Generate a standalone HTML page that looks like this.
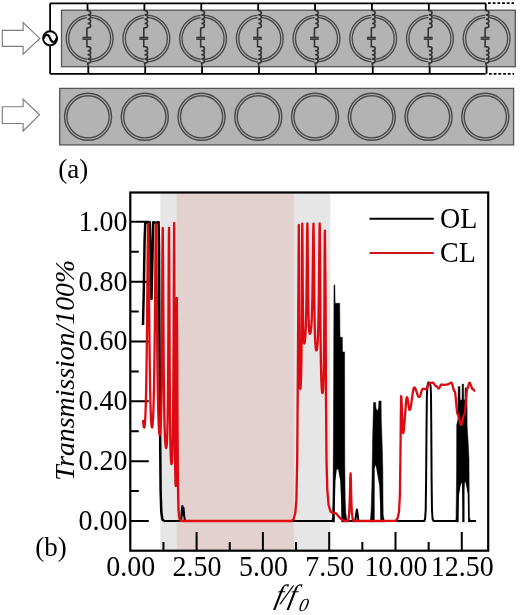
<!DOCTYPE html>
<html><head><meta charset="utf-8"><title>Figure</title>
<style>html,body{margin:0;padding:0;background:#fff;}svg{display:block;}text{font-family:"Liberation Serif",serif;}</style>
</head><body>
<svg width="520" height="615" viewBox="0 0 520 615">
<polygon points="2.3,30.3 23.1,30.3 23.1,22.5 39.8,38.4 23.1,54.2 23.1,46.4 2.3,46.4" fill="#fff" stroke="#7c7c7c" stroke-width="1.15" stroke-linejoin="miter"/>
<polygon points="2.3,106.7 23.1,106.7 23.1,99 39.5,114.8 23.1,131 23.1,123.5 2.3,123.5" fill="#fff" stroke="#7c7c7c" stroke-width="1.15" stroke-linejoin="miter"/>
<rect x="61.5" y="10.2" width="453.8" height="56.5" fill="#b3b3b3" stroke="#555555" stroke-width="1.3"/>
<rect x="59.7" y="88.4" width="453.9" height="56.5" fill="#b3b3b3" stroke="#555555" stroke-width="1.3"/>
<path d="M50.1,3.3 H485.73 M50.1,73.8 H485.73 M50.1,3.3 V73.8" fill="none" stroke="#000" stroke-width="1.8"/>
<path d="M488,3.2 H514 M489,73.8 H514" fill="none" stroke="#000" stroke-width="1.8" stroke-dasharray="2.8 1.9"/>
<circle cx="89.65" cy="38.5" r="23.4" fill="none" stroke="#4a4a4a" stroke-width="1.35"/>
<circle cx="89.65" cy="38.5" r="21.0" fill="none" stroke="#4a4a4a" stroke-width="1.35"/>
<rect x="86.9" y="12.5" width="4.2" height="7" fill="#b3b3b3"/>
<rect x="86.9" y="57.5" width="4.2" height="7" fill="#b3b3b3"/>
<path d="M87.5,3.3 V10.6 M88.3,66.6 V73.8" stroke="#000" stroke-width="1.8" fill="none"/>
<path d="M87.6,10.6 a3.1,2.15 0 0 1 0,4.3 a3.1,2.15 0 0 1 0,4.3 a3.1,2.15 0 0 1 0,4.3 a3.1,2.15 0 0 1 0,4.3 L86.9,28.4 V36.9 M86.9,39.7 V46.6 L87.6,46.6 a3.1,2.05 0 0 1 0,4.1 a3.1,2.05 0 0 1 0,4.1 a3.1,2.05 0 0 1 0,4.1 a3.1,2.05 0 0 1 0,4.1 L88.4,66.6" stroke="#333333" stroke-width="1.6" fill="none"/>
<rect x="82.5" y="36.7" width="8.8" height="3.2" fill="#333333"/>
<line x1="82.5" y1="38.3" x2="91.3" y2="38.3" stroke="#7a7a7a" stroke-width="0.6"/>
<circle cx="146.36" cy="38.5" r="23.4" fill="none" stroke="#4a4a4a" stroke-width="1.35"/>
<circle cx="146.36" cy="38.5" r="21.0" fill="none" stroke="#4a4a4a" stroke-width="1.35"/>
<rect x="143.79" y="12.5" width="4.2" height="7" fill="#b3b3b3"/>
<rect x="143.79" y="57.5" width="4.2" height="7" fill="#b3b3b3"/>
<path d="M144.39,3.3 V10.6 M145.19,66.6 V73.8" stroke="#000" stroke-width="1.8" fill="none"/>
<path d="M144.49,10.6 a3.1,2.15 0 0 1 0,4.3 a3.1,2.15 0 0 1 0,4.3 a3.1,2.15 0 0 1 0,4.3 a3.1,2.15 0 0 1 0,4.3 L143.79,28.4 V36.9 M143.79,39.7 V46.6 L144.49,46.6 a3.1,2.05 0 0 1 0,4.1 a3.1,2.05 0 0 1 0,4.1 a3.1,2.05 0 0 1 0,4.1 a3.1,2.05 0 0 1 0,4.1 L145.29,66.6" stroke="#333333" stroke-width="1.6" fill="none"/>
<rect x="139.39" y="36.7" width="8.8" height="3.2" fill="#333333"/>
<line x1="139.39" y1="38.3" x2="148.19" y2="38.3" stroke="#7a7a7a" stroke-width="0.6"/>
<circle cx="203.07" cy="38.5" r="23.4" fill="none" stroke="#4a4a4a" stroke-width="1.35"/>
<circle cx="203.07" cy="38.5" r="21.0" fill="none" stroke="#4a4a4a" stroke-width="1.35"/>
<rect x="200.68" y="12.5" width="4.2" height="7" fill="#b3b3b3"/>
<rect x="200.68" y="57.5" width="4.2" height="7" fill="#b3b3b3"/>
<path d="M201.28,3.3 V10.6 M202.08,66.6 V73.8" stroke="#000" stroke-width="1.8" fill="none"/>
<path d="M201.38,10.6 a3.1,2.15 0 0 1 0,4.3 a3.1,2.15 0 0 1 0,4.3 a3.1,2.15 0 0 1 0,4.3 a3.1,2.15 0 0 1 0,4.3 L200.68,28.4 V36.9 M200.68,39.7 V46.6 L201.38,46.6 a3.1,2.05 0 0 1 0,4.1 a3.1,2.05 0 0 1 0,4.1 a3.1,2.05 0 0 1 0,4.1 a3.1,2.05 0 0 1 0,4.1 L202.18,66.6" stroke="#333333" stroke-width="1.6" fill="none"/>
<rect x="196.28" y="36.7" width="8.8" height="3.2" fill="#333333"/>
<line x1="196.28" y1="38.3" x2="205.08" y2="38.3" stroke="#7a7a7a" stroke-width="0.6"/>
<circle cx="259.78" cy="38.5" r="23.4" fill="none" stroke="#4a4a4a" stroke-width="1.35"/>
<circle cx="259.78" cy="38.5" r="21.0" fill="none" stroke="#4a4a4a" stroke-width="1.35"/>
<rect x="257.57" y="12.5" width="4.2" height="7" fill="#b3b3b3"/>
<rect x="257.57" y="57.5" width="4.2" height="7" fill="#b3b3b3"/>
<path d="M258.17,3.3 V10.6 M258.97,66.6 V73.8" stroke="#000" stroke-width="1.8" fill="none"/>
<path d="M258.27,10.6 a3.1,2.15 0 0 1 0,4.3 a3.1,2.15 0 0 1 0,4.3 a3.1,2.15 0 0 1 0,4.3 a3.1,2.15 0 0 1 0,4.3 L257.57,28.4 V36.9 M257.57,39.7 V46.6 L258.27,46.6 a3.1,2.05 0 0 1 0,4.1 a3.1,2.05 0 0 1 0,4.1 a3.1,2.05 0 0 1 0,4.1 a3.1,2.05 0 0 1 0,4.1 L259.07,66.6" stroke="#333333" stroke-width="1.6" fill="none"/>
<rect x="253.17" y="36.7" width="8.8" height="3.2" fill="#333333"/>
<line x1="253.17" y1="38.3" x2="261.97" y2="38.3" stroke="#7a7a7a" stroke-width="0.6"/>
<circle cx="316.49" cy="38.5" r="23.4" fill="none" stroke="#4a4a4a" stroke-width="1.35"/>
<circle cx="316.49" cy="38.5" r="21.0" fill="none" stroke="#4a4a4a" stroke-width="1.35"/>
<rect x="314.46" y="12.5" width="4.2" height="7" fill="#b3b3b3"/>
<rect x="314.46" y="57.5" width="4.2" height="7" fill="#b3b3b3"/>
<path d="M315.06,3.3 V10.6 M315.86,66.6 V73.8" stroke="#000" stroke-width="1.8" fill="none"/>
<path d="M315.16,10.6 a3.1,2.15 0 0 1 0,4.3 a3.1,2.15 0 0 1 0,4.3 a3.1,2.15 0 0 1 0,4.3 a3.1,2.15 0 0 1 0,4.3 L314.46,28.4 V36.9 M314.46,39.7 V46.6 L315.16,46.6 a3.1,2.05 0 0 1 0,4.1 a3.1,2.05 0 0 1 0,4.1 a3.1,2.05 0 0 1 0,4.1 a3.1,2.05 0 0 1 0,4.1 L315.96,66.6" stroke="#333333" stroke-width="1.6" fill="none"/>
<rect x="310.06" y="36.7" width="8.8" height="3.2" fill="#333333"/>
<line x1="310.06" y1="38.3" x2="318.86" y2="38.3" stroke="#7a7a7a" stroke-width="0.6"/>
<circle cx="373.2" cy="38.5" r="23.4" fill="none" stroke="#4a4a4a" stroke-width="1.35"/>
<circle cx="373.2" cy="38.5" r="21.0" fill="none" stroke="#4a4a4a" stroke-width="1.35"/>
<rect x="371.35" y="12.5" width="4.2" height="7" fill="#b3b3b3"/>
<rect x="371.35" y="57.5" width="4.2" height="7" fill="#b3b3b3"/>
<path d="M371.95,3.3 V10.6 M372.75,66.6 V73.8" stroke="#000" stroke-width="1.8" fill="none"/>
<path d="M372.05,10.6 a3.1,2.15 0 0 1 0,4.3 a3.1,2.15 0 0 1 0,4.3 a3.1,2.15 0 0 1 0,4.3 a3.1,2.15 0 0 1 0,4.3 L371.35,28.4 V36.9 M371.35,39.7 V46.6 L372.05,46.6 a3.1,2.05 0 0 1 0,4.1 a3.1,2.05 0 0 1 0,4.1 a3.1,2.05 0 0 1 0,4.1 a3.1,2.05 0 0 1 0,4.1 L372.85,66.6" stroke="#333333" stroke-width="1.6" fill="none"/>
<rect x="366.95" y="36.7" width="8.8" height="3.2" fill="#333333"/>
<line x1="366.95" y1="38.3" x2="375.75" y2="38.3" stroke="#7a7a7a" stroke-width="0.6"/>
<circle cx="429.91" cy="38.5" r="23.4" fill="none" stroke="#4a4a4a" stroke-width="1.35"/>
<circle cx="429.91" cy="38.5" r="21.0" fill="none" stroke="#4a4a4a" stroke-width="1.35"/>
<rect x="428.24" y="12.5" width="4.2" height="7" fill="#b3b3b3"/>
<rect x="428.24" y="57.5" width="4.2" height="7" fill="#b3b3b3"/>
<path d="M428.84,3.3 V10.6 M429.64,66.6 V73.8" stroke="#000" stroke-width="1.8" fill="none"/>
<path d="M428.94,10.6 a3.1,2.15 0 0 1 0,4.3 a3.1,2.15 0 0 1 0,4.3 a3.1,2.15 0 0 1 0,4.3 a3.1,2.15 0 0 1 0,4.3 L428.24,28.4 V36.9 M428.24,39.7 V46.6 L428.94,46.6 a3.1,2.05 0 0 1 0,4.1 a3.1,2.05 0 0 1 0,4.1 a3.1,2.05 0 0 1 0,4.1 a3.1,2.05 0 0 1 0,4.1 L429.74,66.6" stroke="#333333" stroke-width="1.6" fill="none"/>
<rect x="423.84" y="36.7" width="8.8" height="3.2" fill="#333333"/>
<line x1="423.84" y1="38.3" x2="432.64" y2="38.3" stroke="#7a7a7a" stroke-width="0.6"/>
<circle cx="486.62" cy="38.5" r="23.4" fill="none" stroke="#4a4a4a" stroke-width="1.35"/>
<circle cx="486.62" cy="38.5" r="21.0" fill="none" stroke="#4a4a4a" stroke-width="1.35"/>
<rect x="485.13" y="12.5" width="4.2" height="7" fill="#b3b3b3"/>
<rect x="485.13" y="57.5" width="4.2" height="7" fill="#b3b3b3"/>
<path d="M485.73,3.3 V10.6 M486.53,66.6 V73.8" stroke="#000" stroke-width="1.8" fill="none"/>
<path d="M485.83,10.6 a3.1,2.15 0 0 1 0,4.3 a3.1,2.15 0 0 1 0,4.3 a3.1,2.15 0 0 1 0,4.3 a3.1,2.15 0 0 1 0,4.3 L485.13,28.4 V36.9 M485.13,39.7 V46.6 L485.83,46.6 a3.1,2.05 0 0 1 0,4.1 a3.1,2.05 0 0 1 0,4.1 a3.1,2.05 0 0 1 0,4.1 a3.1,2.05 0 0 1 0,4.1 L486.63,66.6" stroke="#333333" stroke-width="1.6" fill="none"/>
<rect x="480.73" y="36.7" width="8.8" height="3.2" fill="#333333"/>
<line x1="480.73" y1="38.3" x2="489.53" y2="38.3" stroke="#7a7a7a" stroke-width="0.6"/>
<circle cx="50.1" cy="38.3" r="7.05" fill="#fff" stroke="#000" stroke-width="1.9"/>
<path d="M43.6,38.9 C44.6,33.6 48.6,33.6 50.1,38.4 C51.6,43.2 55.6,43.2 56.6,37.9" fill="none" stroke="#000" stroke-width="2.1"/>
<circle cx="88.05" cy="116.8" r="23.5" fill="none" stroke="#4a4a4a" stroke-width="1.4"/>
<circle cx="88.05" cy="116.8" r="21.1" fill="none" stroke="#4a4a4a" stroke-width="1.4"/>
<circle cx="144.8" cy="116.8" r="23.5" fill="none" stroke="#4a4a4a" stroke-width="1.4"/>
<circle cx="144.8" cy="116.8" r="21.1" fill="none" stroke="#4a4a4a" stroke-width="1.4"/>
<circle cx="201.55" cy="116.8" r="23.5" fill="none" stroke="#4a4a4a" stroke-width="1.4"/>
<circle cx="201.55" cy="116.8" r="21.1" fill="none" stroke="#4a4a4a" stroke-width="1.4"/>
<circle cx="258.3" cy="116.8" r="23.5" fill="none" stroke="#4a4a4a" stroke-width="1.4"/>
<circle cx="258.3" cy="116.8" r="21.1" fill="none" stroke="#4a4a4a" stroke-width="1.4"/>
<circle cx="315.05" cy="116.8" r="23.5" fill="none" stroke="#4a4a4a" stroke-width="1.4"/>
<circle cx="315.05" cy="116.8" r="21.1" fill="none" stroke="#4a4a4a" stroke-width="1.4"/>
<circle cx="371.8" cy="116.8" r="23.5" fill="none" stroke="#4a4a4a" stroke-width="1.4"/>
<circle cx="371.8" cy="116.8" r="21.1" fill="none" stroke="#4a4a4a" stroke-width="1.4"/>
<circle cx="428.55" cy="116.8" r="23.5" fill="none" stroke="#4a4a4a" stroke-width="1.4"/>
<circle cx="428.55" cy="116.8" r="21.1" fill="none" stroke="#4a4a4a" stroke-width="1.4"/>
<circle cx="485.3" cy="116.8" r="23.5" fill="none" stroke="#4a4a4a" stroke-width="1.4"/>
<circle cx="485.3" cy="116.8" r="21.1" fill="none" stroke="#4a4a4a" stroke-width="1.4"/>
<text x="58.3" y="178.3" font-size="27" fill="#000">(a)</text>
<rect x="160.3" y="192.5" width="170" height="358.2" fill="#e6e6e6"/>
<rect x="176.7" y="192.5" width="117.2" height="358.2" fill="#e3d1d0"/>
<path d="M130.3,521 h18.5 M130.3,491.08 h8.5 M130.3,461.16 h18.5 M130.3,431.24 h8.5 M130.3,401.32 h18.5 M130.3,371.4 h8.5 M130.3,341.48 h18.5 M130.3,311.56 h8.5 M130.3,281.64 h18.5 M130.3,251.72 h8.5 M130.3,221.8 h18.5 M163.45,550.7 v-8.8 M196.6,550.7 v-18.8 M229.75,550.7 v-8.8 M262.9,550.7 v-18.8 M296.05,550.7 v-8.8 M329.2,550.7 v-18.8 M362.35,550.7 v-8.8 M395.5,550.7 v-18.8 M428.65,550.7 v-8.8 M461.8,550.7 v-18.8" stroke="#000" stroke-width="2" fill="none"/>
<text transform="translate(127.4,530) scale(1,1.07)" text-anchor="end" font-size="28" fill="#000">0.00</text>
<text transform="translate(127.4,470.16) scale(1,1.07)" text-anchor="end" font-size="28" fill="#000">0.20</text>
<text transform="translate(127.4,410.32) scale(1,1.07)" text-anchor="end" font-size="28" fill="#000">0.40</text>
<text transform="translate(127.4,350.48) scale(1,1.07)" text-anchor="end" font-size="28" fill="#000">0.60</text>
<text transform="translate(127.4,290.64) scale(1,1.07)" text-anchor="end" font-size="28" fill="#000">0.80</text>
<text transform="translate(127.4,230.8) scale(1,1.07)" text-anchor="end" font-size="28" fill="#000">1.00</text>
<text transform="translate(130.8,575.8) scale(1,1.045)" text-anchor="middle" font-size="28" fill="#000">0.00</text>
<text transform="translate(197.1,575.8) scale(1,1.045)" text-anchor="middle" font-size="28" fill="#000">2.50</text>
<text transform="translate(263.4,575.8) scale(1,1.045)" text-anchor="middle" font-size="28" fill="#000">5.00</text>
<text transform="translate(329.7,575.8) scale(1,1.045)" text-anchor="middle" font-size="28" fill="#000">7.50</text>
<text transform="translate(396,575.8) scale(1,1.045)" text-anchor="middle" font-size="28" fill="#000">10.00</text>
<text transform="translate(462.3,575.8) scale(1,1.045)" text-anchor="middle" font-size="28" fill="#000">12.50</text>
<text transform="translate(73.9,480.8) rotate(-90)" font-style="italic" font-size="27.8" fill="#000">Transmission/100%</text>
<g transform="translate(0,604.2) skewX(-12)"><text x="0" y="0" font-style="italic" font-size="28" fill="#000"><tspan x="273.9">f</tspan><tspan x="280.4">/</tspan><tspan x="287.6">f</tspan><tspan x="299.4" font-size="18.5" dy="6.6">0</tspan></text></g>
<text x="35.2" y="555.5" font-size="27" fill="#000">(b)</text>
<line x1="369.5" y1="218.8" x2="433.8" y2="218.8" stroke="#000" stroke-width="2"/>
<line x1="369.5" y1="253" x2="433.8" y2="253" stroke="#d0141a" stroke-width="2"/>
<text transform="translate(440,228) scale(1,1.07)" font-size="28" fill="#000">OL</text>
<text transform="translate(440,262.2) scale(1,1.07)" font-size="28" fill="#000">CL</text>
<path d="M143,325 L143.8,290 L144.6,240 L145.3,222.3 L147,222.8 L149.8,222.3 L150.4,250 L151.5,299 L152.6,250 L153.2,222.3 L155,222.8 L158.6,222.3 L159,250 L159.4,330 L160.1,430 L160.6,490 L161.3,512 L162.4,519.5 L164,521" stroke="#000" stroke-width="2.5" fill="none" stroke-linejoin="round"/>
<path d="M164,521 L181.2,521 L181.8,510 L182.4,506 L183,515 L183.6,508 L184.3,517 L185,521 L355.2,521 L356.2,514 L356.9,509.5 L357.6,514 L358.4,521 L424.2,521 L425.1,519 L425.7,510 L426.1,480 L426.5,430 L426.9,395 L427.4,386 L428.4,382.6 L429.6,382.6 L430.6,386 L431,395 L431.3,430 L431.6,480 L432,510 L432.6,519 L433.6,521 L476,521" stroke="#000" stroke-width="2" fill="none" stroke-linejoin="round"/>
<polygon points="331.6,521.8 332.4,517 332.9,500 333.2,470 333.5,420 333.8,330 334,285 334.8,285 335.1,303.3 339.7,303.3 340,337.2 342.3,337.2 342.5,351.9 344.6,351.9 344.8,466 345.2,500 345.8,513 346.6,519 348,521.8" fill="#000" stroke="#000" stroke-width="0.5" stroke-linejoin="round"/>
<polygon points="369.6,521.8 370.6,518.5 371.2,509 371.9,485 372.6,440 373.4,410 373.6,402.4 375.6,402.4 375.9,408 377.3,411.5 378.6,408 378.9,401 381.1,401 381.3,420 382,440 382.4,452 382.8,470 383,500 383.2,515 384,519.5 385.4,521.8" fill="#000" stroke="#000" stroke-width="0.5" stroke-linejoin="round"/>
<polygon points="455.4,521.8 456,519 456.3,501 456.6,470 456.7,425 457.9,420 457.9,400 458.3,386.6 459.9,386.6 460.1,400 462,400 462.2,384.1 463.5,384.1 463.8,400 465,400 465.2,387.8 466.6,387.8 467.1,410 467.1,425 468.3,445 469,460 469.1,481 469.3,500 469.5,517 470.3,520.5 471.8,521.8" fill="#000" stroke="#000" stroke-width="0.5" stroke-linejoin="round"/>
<polygon points="334.8,522.5 334.9,505 335.4,481.5 336.6,470.5 337.5,469 338.3,470 340.2,480.5 341.1,500 341.4,522.5" fill="#fff"/>
<polygon points="374.6,522.5 374.6,470 375.2,465 376.2,467.8 379.3,485.6 380.1,505 380.3,522.5" fill="#fff"/>
<polygon points="458.6,522.5 459,495 460.6,485.5 461.6,483 462,483.5 462.2,500 462.3,522.5" fill="#fff"/>
<polygon points="464.5,522.5 464.5,490 464.9,481.5 465.8,483.4 467.7,494 468.1,519 468.1,522.5" fill="#fff"/>
<path d="M143,420 L143.11,420.57 L143.22,421.92 L143.33,423.41 L143.44,424.67 L143.55,425.63 L143.65,426.31 L143.76,426.8 L143.87,427.13 L143.98,427.34 L144.09,427.46 L144.2,427.5 L144.3,427.42 L144.4,427.19 L144.5,426.79 L144.6,426.23 L144.7,425.51 L144.8,424.61 L144.9,423.53 L145,422.27 L145.1,420.8 L145.2,419.13 L145.3,417.23 L145.4,415.1 L145.5,412.7 L145.6,410.03 L145.7,407.07 L145.8,403.78 L145.9,400.13 L146,396.11 L146.1,391.68 L146.2,386.8 L146.3,381.44 L146.4,375.56 L146.5,369.12 L146.6,362.1 L146.7,354.45 L146.8,346.17 L146.9,337.24 L147,327.67 L147.1,317.51 L147.2,306.82 L147.3,295.73 L147.4,284.42 L147.5,273.12 L147.6,262.13 L147.7,251.81 L147.8,242.56 L147.9,234.8 L148,228.92 L148.1,225.25 L148.2,224 L148.3,225.38 L148.4,229.44 L148.5,235.91 L148.6,244.39 L148.7,254.44 L148.8,265.54 L148.9,277.26 L149,289.2 L149.1,301.03 L149.2,312.5 L149.3,323.46 L149.4,333.78 L149.5,343.42 L149.6,352.33 L149.7,360.54 L149.8,368.05 L149.9,374.91 L150,381.14 L150.1,386.8 L150.2,391.92 L150.3,396.56 L150.4,400.73 L150.5,404.5 L150.6,407.88 L150.7,410.91 L150.8,413.62 L150.9,416.03 L151,418.16 L151.1,420.04 L151.2,421.68 L151.3,423.09 L151.4,424.29 L151.5,425.29 L151.6,426.09 L151.7,426.71 L151.8,427.15 L151.9,427.41 L152,427.5 L152.1,427.42 L152.2,427.19 L152.3,426.79 L152.4,426.23 L152.5,425.51 L152.6,424.61 L152.7,423.53 L152.8,422.27 L152.9,420.8 L153,419.13 L153.1,417.23 L153.2,415.1 L153.3,412.7 L153.4,410.03 L153.5,407.07 L153.6,403.78 L153.7,400.13 L153.8,396.11 L153.9,391.68 L154,386.8 L154.1,381.44 L154.2,375.56 L154.3,369.12 L154.4,362.1 L154.5,354.45 L154.6,346.17 L154.7,337.24 L154.8,327.67 L154.9,317.51 L155,306.82 L155.1,295.73 L155.2,284.42 L155.3,273.12 L155.4,262.13 L155.5,251.81 L155.6,242.56 L155.7,234.8 L155.8,228.92 L155.9,225.25 L156,224 L156.1,225.6 L156.21,230.27 L156.31,237.68 L156.41,247.34 L156.51,258.67 L156.62,271.08 L156.72,284.03 L156.82,297.08 L156.93,309.87 L157.03,322.15 L157.13,333.75 L157.23,344.57 L157.34,354.57 L157.44,363.74 L157.54,372.11 L157.64,379.71 L157.75,386.59 L157.85,392.8 L157.95,398.39 L158.06,403.42 L158.16,407.93 L158.26,411.96 L158.36,415.56 L158.47,418.77 L158.57,421.61 L158.67,424.12 L158.77,426.32 L158.88,428.24 L158.98,429.88 L159.08,431.28 L159.19,432.44 L159.29,433.37 L159.39,434.09 L159.49,434.6 L159.6,434.9 L159.7,435 L159.8,434.92 L159.9,434.67 L160,434.26 L160.1,433.67 L160.2,432.9 L160.3,431.92 L160.4,430.73 L160.5,429.3 L160.6,427.6 L160.7,425.59 L160.8,423.24 L160.9,420.48 L161,417.27 L161.1,413.51 L161.2,409.12 L161.3,403.99 L161.4,397.97 L161.5,390.91 L161.6,382.62 L161.7,372.9 L161.8,361.53 L161.9,348.3 L162,333.1 L162.1,315.97 L162.2,297.24 L162.3,277.74 L162.4,258.92 L162.5,242.86 L162.6,231.9 L162.7,228 L162.8,231.06 L162.9,239.81 L163,253.04 L163.1,269.21 L163.2,286.79 L163.3,304.51 L163.4,321.49 L163.5,337.22 L163.6,351.46 L163.7,364.14 L163.8,375.32 L163.9,385.12 L164,393.68 L164.1,401.14 L164.2,407.65 L164.3,413.32 L164.4,418.27 L164.5,422.59 L164.6,426.37 L164.7,429.68 L164.8,432.57 L164.9,435.11 L165,437.33 L165.1,439.26 L165.2,440.95 L165.3,442.4 L165.4,443.66 L165.5,444.73 L165.6,445.63 L165.7,446.37 L165.8,446.97 L165.9,447.42 L166,447.75 L166.1,447.94 L166.2,448 L166.3,447.9 L166.4,447.6 L166.5,447.1 L166.6,446.37 L166.7,445.42 L166.8,444.22 L166.9,442.74 L167,440.95 L167.1,438.8 L167.2,436.25 L167.3,433.24 L167.4,429.68 L167.5,425.47 L167.6,420.5 L167.7,414.62 L167.8,407.65 L167.9,399.37 L168,389.55 L168.1,377.9 L168.2,364.14 L168.3,348.05 L168.4,329.53 L168.5,308.85 L168.6,286.79 L168.7,264.98 L168.8,245.95 L168.9,232.75 L169,228 L169.1,234.36 L169.2,251.72 L169.3,275.91 L169.4,302.52 L169.5,328.29 L169.6,351.48 L169.7,371.45 L169.8,388.25 L169.9,402.21 L170,413.73 L170.1,423.24 L170.2,431.1 L170.3,437.6 L170.4,442.98 L170.5,447.45 L170.6,451.16 L170.7,454.23 L170.8,456.76 L170.9,458.83 L171,460.49 L171.1,461.8 L171.2,462.78 L171.3,463.46 L171.4,463.87 L171.5,464 L171.6,463.87 L171.71,463.49 L171.81,462.85 L171.92,461.93 L172.02,460.7 L172.12,459.15 L172.23,457.22 L172.33,454.88 L172.43,452.04 L172.54,448.64 L172.64,444.57 L172.75,439.7 L172.85,433.88 L172.95,426.89 L173.06,418.5 L173.16,408.41 L173.27,396.27 L173.37,381.7 L173.47,364.33 L173.58,343.91 L173.68,320.52 L173.78,294.91 L173.89,268.87 L173.99,245.55 L174.1,229.02 L174.2,223 L174.3,239.72 L174.4,280.04 L174.5,326.04 L174.6,366.51 L174.7,398.33 L174.8,422.25 L174.9,439.98 L175,453.12 L175.1,462.92 L175.2,470.23 L175.3,475.69 L175.4,479.71 L175.5,482.59 L175.6,484.52 L175.7,485.64 L175.8,486 L175.9,485.33 L176,483.21 L176.1,479.28 L176.2,472.82 L176.3,462.5 L176.4,445.96 L176.5,419.27 L176.6,377.89 L176.7,326.08 L176.8,298 L177.1,330 L177.5,420 L177.9,480 L178.5,510 L179.4,518.5 L180.8,520.8 L184,521 L291.5,521 L293.5,519.5 L295.3,513 L296.4,500 L297.2,460 L297.8,380 L298.8,225 L298.91,240.34 L299.02,273.93 L299.12,307.28 L299.23,332.99 L299.34,351.17 L299.45,363.75 L299.55,372.47 L299.66,378.55 L299.77,382.79 L299.88,385.7 L299.98,387.59 L300.09,388.66 L300.2,389 L300.3,388.87 L300.4,388.46 L300.5,387.78 L300.6,386.78 L300.7,385.44 L300.8,383.7 L300.9,381.48 L301,378.7 L301.1,375.22 L301.2,370.89 L301.3,365.46 L301.4,358.66 L301.5,350.12 L301.6,339.38 L301.7,325.95 L301.8,309.41 L301.9,289.72 L302,267.8 L302.1,246.29 L302.2,229.86 L302.3,223.6 L302.4,229.7 L302.5,245.03 L302.6,263.7 L302.7,281.29 L302.8,295.96 L302.9,307.53 L303,316.45 L303.1,323.28 L303.2,328.51 L303.3,332.54 L303.4,335.65 L303.5,338.05 L303.6,339.89 L303.7,341.27 L303.8,342.28 L303.9,342.97 L304,343.37 L304.1,343.5 L304.2,343.46 L304.31,343.33 L304.41,343.12 L304.51,342.82 L304.62,342.43 L304.72,341.94 L304.82,341.34 L304.93,340.62 L305.03,339.78 L305.13,338.79 L305.23,337.63 L305.34,336.29 L305.44,334.74 L305.54,332.95 L305.65,330.88 L305.75,328.48 L305.85,325.69 L305.96,322.47 L306.06,318.72 L306.16,314.36 L306.27,309.3 L306.37,303.43 L306.47,296.65 L306.57,288.89 L306.68,280.11 L306.78,270.39 L306.88,259.98 L306.99,249.37 L307.09,239.34 L307.19,230.94 L307.3,225.3 L307.4,223.3 L307.5,226.28 L307.6,234.4 L307.7,245.73 L307.8,258.19 L307.9,270.26 L308,281.11 L308.1,290.47 L308.2,298.33 L308.3,304.87 L308.4,310.26 L308.5,314.72 L308.6,318.39 L308.7,321.44 L308.8,323.96 L308.9,326.05 L309,327.79 L309.1,329.23 L309.2,330.41 L309.3,331.38 L309.4,332.16 L309.5,332.77 L309.6,333.23 L309.7,333.55 L309.8,333.74 L309.9,333.8 L310,333.77 L310.1,333.68 L310.2,333.53 L310.3,333.31 L310.4,333.03 L310.5,332.68 L310.6,332.26 L310.7,331.75 L310.8,331.16 L310.9,330.48 L311,329.69 L311.1,328.79 L311.2,327.76 L311.3,326.59 L311.4,325.25 L311.5,323.73 L311.6,322 L311.7,320.02 L311.8,317.78 L311.9,315.21 L312,312.28 L312.1,308.94 L312.2,305.11 L312.3,300.74 L312.4,295.76 L312.5,290.11 L312.6,283.73 L312.7,276.62 L312.8,268.82 L312.9,260.46 L313,251.81 L313.1,243.3 L313.2,235.52 L313.3,229.2 L313.4,225.05 L313.5,223.6 L313.6,226.34 L313.71,233.95 L313.81,244.92 L313.91,257.48 L314.02,270.2 L314.12,282.12 L314.23,292.79 L314.33,302.07 L314.43,309.99 L314.54,316.71 L314.64,322.37 L314.74,327.14 L314.85,331.16 L314.95,334.55 L315.05,337.42 L315.16,339.84 L315.26,341.89 L315.36,343.63 L315.47,345.1 L315.57,346.33 L315.67,347.37 L315.78,348.22 L315.88,348.91 L315.99,349.46 L316.09,349.88 L316.19,350.17 L316.3,350.34 L316.4,350.4 L316.5,350.36 L316.6,350.23 L316.7,350.03 L316.8,349.73 L316.9,349.34 L317,348.85 L317.1,348.26 L317.2,347.56 L317.3,346.72 L317.4,345.75 L317.5,344.62 L317.6,343.32 L317.7,341.81 L317.8,340.08 L317.9,338.09 L318,335.79 L318.1,333.14 L318.2,330.08 L318.3,326.55 L318.4,322.46 L318.5,317.74 L318.6,312.27 L318.7,305.97 L318.8,298.73 L318.9,290.5 L319,281.27 L319.1,271.14 L319.2,260.38 L319.3,249.53 L319.4,239.37 L319.5,230.93 L319.6,225.29 L319.7,223.3 L319.8,226.97 L319.9,237.15 L320,251.83 L320.1,268.65 L320.2,285.66 L320.3,301.62 L320.4,315.9 L320.5,328.31 L320.6,338.92 L320.7,347.91 L320.8,355.49 L320.9,361.87 L321,367.25 L321.1,371.79 L321.2,375.62 L321.3,378.87 L321.4,381.61 L321.5,383.94 L321.6,385.9 L321.7,387.56 L321.8,388.94 L321.9,390.08 L322,391.01 L322.1,391.75 L322.2,392.3 L322.3,392.69 L322.4,392.92 L322.5,393 L322.6,392.89 L322.71,392.56 L322.81,392 L322.92,391.2 L323.02,390.12 L323.13,388.74 L323.23,387 L323.33,384.86 L323.44,382.22 L323.54,378.98 L323.65,375.02 L323.75,370.16 L323.86,364.19 L323.96,356.84 L324.07,347.77 L324.17,336.63 L324.27,323.06 L324.38,306.86 L324.48,288.26 L324.59,268.37 L324.69,249.66 L324.8,235.85 L324.9,230.7 L325.6,300 L326,400 L326.5,460 L327.3,490 L328.6,505 L330.5,511.5 L332.6,513 L334.5,512.8 L336.5,513.8 L339,517 L342,519.8 L345,520.8 L348,521 L348.4,520 L349.3,512 L349.9,495 L350.3,478 L350.6,473.5 L350.9,480 L351.3,500 L351.9,513 L352.8,519.5 L353.8,521 L395.5,520.8 L397.5,518.5 L399,512 L399.9,495 L400.4,460 L400.8,420 L401.1,396.2 L401.35,397.6 L401.6,401.59 L401.85,407.56 L402.1,414.6 L402.35,421.64 L402.6,427.61 L402.85,431.6 L403.1,433 L403.36,432.61 L403.62,431.45 L403.88,429.58 L404.14,427.08 L404.4,424.05 L404.66,420.63 L404.92,416.97 L405.18,413.23 L405.44,409.57 L405.7,406.15 L405.96,403.12 L406.22,400.62 L406.48,398.75 L406.74,397.59 L407,397.2 L407.26,397.51 L407.52,398.42 L407.78,399.84 L408.04,401.62 L408.3,403.6 L408.56,405.58 L408.82,407.36 L409.08,408.78 L409.34,409.69 L409.6,410 L409.86,409.83 L410.12,409.32 L410.38,408.49 L410.64,407.37 L410.91,405.98 L411.17,404.38 L411.43,402.6 L411.69,400.7 L411.95,398.75 L412.21,396.8 L412.47,394.9 L412.73,393.12 L412.99,391.52 L413.26,390.13 L413.52,389.01 L413.78,388.18 L414.04,387.67 L414.3,387.5 L414.55,387.56 L414.81,387.76 L415.06,388.07 L415.31,388.5 L415.56,389.03 L415.82,389.65 L416.07,390.34 L416.32,391.08 L416.57,391.86 L416.83,392.64 L417.08,393.42 L417.33,394.16 L417.58,394.85 L417.84,395.47 L418.09,396 L418.34,396.43 L418.59,396.74 L418.85,396.94 L419.1,397 L419.36,396.91 L419.62,396.65 L419.88,396.22 L420.14,395.64 L420.4,394.95 L420.66,394.17 L420.92,393.33 L421.18,392.47 L421.44,391.63 L421.7,390.85 L421.96,390.16 L422.22,389.58 L422.48,389.15 L422.74,388.89 L423,388.8 L423.27,388.81 L423.53,388.82 L423.8,388.84 L424.07,388.88 L424.33,388.91 L424.6,388.95 L424.87,388.99 L425.13,389.03 L425.4,389.06 L425.67,389.08 L425.93,389.09 L426.2,389.1 L426.45,389.01 L426.71,388.76 L426.96,388.36 L427.22,387.83 L427.47,387.2 L427.72,386.51 L427.98,385.79 L428.23,385.1 L428.48,384.47 L428.74,383.94 L428.99,383.54 L429.25,383.29 L429.5,383.2 L429.77,383.19 L430.03,383.17 L430.3,383.13 L430.57,383.07 L430.83,383.01 L431.1,382.95 L431.37,382.89 L431.63,382.82 L431.9,382.77 L432.17,382.73 L432.43,382.71 L432.7,382.7 L432.95,382.75 L433.21,382.89 L433.46,383.11 L433.72,383.41 L433.97,383.76 L434.22,384.15 L434.48,384.55 L434.73,384.94 L434.98,385.29 L435.24,385.59 L435.49,385.81 L435.75,385.95 L436,386 L436.26,386.06 L436.52,386.23 L436.78,386.49 L437.04,386.83 L437.3,387.2 L437.56,387.57 L437.82,387.91 L438.08,388.17 L438.34,388.34 L438.6,388.4 L438.86,388.32 L439.13,388.09 L439.39,387.73 L439.65,387.26 L439.92,386.73 L440.18,386.17 L440.45,385.64 L440.71,385.17 L440.97,384.81 L441.24,384.58 L441.5,384.5 L441.76,384.51 L442.02,384.54 L442.28,384.58 L442.54,384.64 L442.8,384.7 L443.06,384.76 L443.32,384.82 L443.58,384.86 L443.84,384.89 L444.1,384.9 L444.35,384.89 L444.61,384.88 L444.86,384.85 L445.12,384.81 L445.37,384.77 L445.62,384.72 L445.88,384.68 L446.13,384.63 L446.38,384.59 L446.64,384.55 L446.89,384.52 L447.15,384.51 L447.4,384.5 L447.66,384.48 L447.92,384.42 L448.18,384.33 L448.44,384.2 L448.7,384.05 L448.96,383.88 L449.22,383.69 L449.48,383.51 L449.74,383.32 L450,383.15 L450.26,383 L450.52,382.87 L450.78,382.78 L451.04,382.72 L451.3,382.7 L451.57,382.84 L451.83,383.26 L452.1,383.92 L452.37,384.77 L452.63,385.78 L452.9,386.85 L453.17,387.92 L453.43,388.93 L453.7,389.78 L453.97,390.44 L454.23,390.86 L454.5,391 L454.75,391.34 L455.01,392.35 L455.26,393.95 L455.52,396.08 L455.77,398.58 L456.02,401.33 L456.28,404.17 L456.53,406.92 L456.78,409.42 L457.04,411.55 L457.29,413.15 L457.55,414.16 L457.8,414.5 L458.07,414.68 L458.33,415.2 L458.6,416.02 L458.87,417.1 L459.13,418.35 L459.4,419.7 L459.67,421.05 L459.93,422.3 L460.2,423.38 L460.47,424.2 L460.73,424.72 L461,424.9 L461.25,424.75 L461.51,424.3 L461.76,423.59 L462.02,422.65 L462.27,421.54 L462.52,420.33 L462.78,419.07 L463.03,417.86 L463.28,416.75 L463.54,415.81 L463.79,415.1 L464.05,414.65 L464.3,414.5 L464.57,414.06 L464.83,412.75 L465.1,410.68 L465.37,407.98 L465.63,404.83 L465.9,401.45 L466.17,398.07 L466.43,394.93 L466.7,392.22 L466.97,390.15 L467.23,388.84 L467.5,388.4 L467.75,388.18 L468,387.57 L468.25,386.64 L468.5,385.55 L468.75,384.46 L469,383.53 L469.25,382.92 L469.5,382.7 L469.77,382.81 L470.03,383.13 L470.3,383.64 L470.57,384.3 L470.83,385.07 L471.1,385.9 L471.37,386.73 L471.63,387.5 L471.9,388.16 L472.17,388.67 L472.43,388.99 L472.7,389.1 L472.96,389.15 L473.22,389.28 L473.48,389.49 L473.74,389.76 L474,390.05 L474.26,390.34 L474.52,390.61 L474.78,390.82 L475.04,390.95 L475.3,391" stroke="#de0a12" stroke-width="2.3" fill="none" stroke-linejoin="round"/>
<rect x="130.3" y="192.5" width="357.9" height="358.2" fill="none" stroke="#000" stroke-width="2.2"/>
</svg>
</body></html>
